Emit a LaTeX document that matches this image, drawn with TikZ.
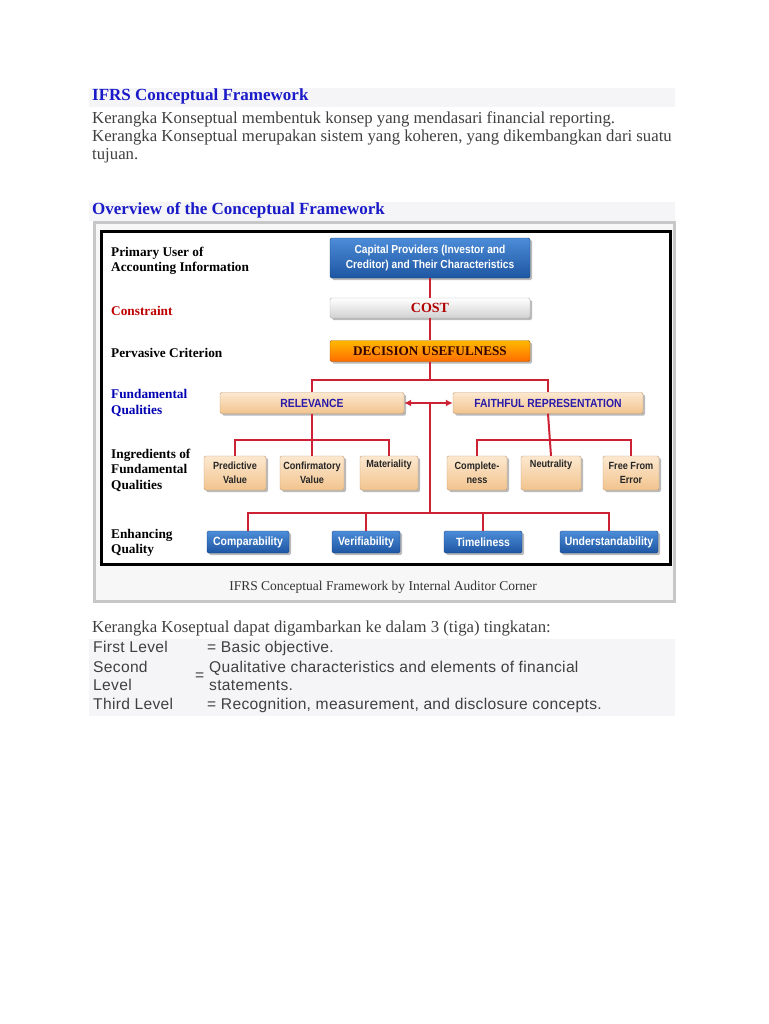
\documentclass[tikz,border=0pt]{standalone}
\usepackage{fontspec}
\setmainfont{Liberation Serif}
\newfontfamily\arialf[LetterSpace=2]{Liberation Sans}
\newfontfamily\narrowf[FakeStretch=0.88]{Liberation Sans}
\usetikzlibrary{shadows,arrows.meta}
\definecolor{titleblue}{HTML}{1A1AC8}
\definecolor{bodygray}{HTML}{404040}
\definecolor{bandgray}{HTML}{F5F5F7}
\definecolor{linered}{HTML}{CC2233}
\definecolor{peach}{HTML}{FAD9B0}
\definecolor{peachdark}{HTML}{F2C48E}
\definecolor{boxblueT}{HTML}{4C8CD8}
\definecolor{boxblueB}{HTML}{1E56A2}
\definecolor{relblue}{HTML}{2A1AA8}
\begin{document}
\begin{tikzpicture}[x=1pt,y=-1pt,
  band/.style={fill=bandgray,draw=none},
  heading/.style={anchor=mid west,inner sep=0pt,font=\fontsize{17}{20}\selectfont\bfseries,text=titleblue},
  bodytext/.style={anchor=mid west,inner sep=0pt,font=\fontsize{16.75}{18}\selectfont,text=bodygray},
  sanstext/.style={anchor=mid west,inner sep=0pt,font=\arialf\fontsize{15.6}{18}\selectfont,text=bodygray},
  rowlabel/.style={anchor=west,inner sep=0pt,align=left,font=\fontsize{13.3}{15.5}\selectfont\bfseries,text=black},
  boxbase/.style={rectangle,rounded corners=1.5pt,inner sep=1pt,drop shadow={shadow xshift=2pt,shadow yshift=-2pt,fill=black!45,opacity=.6}},
  bluebox/.style={boxbase,top color=boxblueT,bottom color=boxblueB,draw=boxblueB!80!black,text=white,font=\narrowf\fontsize{11.9}{15}\selectfont\bfseries},
  peachbox/.style={boxbase,top color=peach!60!white,bottom color=peachdark,draw=peachdark!80!black,text=black!85,font=\narrowf\fontsize{10.4}{13.5}\selectfont\bfseries,align=center},
  qualbox/.style={boxbase,top color=peach!60!white,bottom color=peachdark,draw=peachdark!80!black,text=relblue,font=\narrowf\fontsize{11.8}{14}\selectfont\bfseries},
  conn/.style={draw=linered,line width=2pt}
]
\useasboundingbox (0,0) rectangle (768,1024);
\fill[white] (0,0) rectangle (768,1024);

% --- top text ---
\fill[band] (89,88) rectangle (675,107);
\node[heading] (t1) at (92,98) {IFRS Conceptual Framework};
\node[bodytext] (p1) at (92,121) {Kerangka Konseptual membentuk konsep yang mendasari financial reporting.};
\node[bodytext] (p2) at (92,139) {Kerangka Konseptual merupakan sistem yang koheren, yang dikembangkan dari suatu};
\node[bodytext] (p3) at (92,157) {tujuan.};

\fill[band] (89,202) rectangle (675,221);
\node[heading] (t2) at (92,212) {Overview of the Conceptual Framework};

% --- figure frame ---
\filldraw[fill=white!97!black,draw=black!22,line width=3pt] (94,223) rectangle (674,601);
\filldraw[fill=white,draw=black,line width=3pt] (101,232) rectangle (670,564);
\node[anchor=mid,inner sep=0pt,font=\fontsize{13.5}{15}\selectfont,text=black!80] (cap1) at (383,588) {IFRS Conceptual Framework by Internal Auditor Corner};

% --- row labels ---
\node[rowlabel] (l1) at (111,261) {Primary User of\\Accounting Information};
\node[rowlabel,text=red!75!black] (l2) at (111,311) {Constraint};
\node[rowlabel] (l3) at (111,353) {Pervasive Criterion};
\node[rowlabel,text=blue!70!black] (l4) at (111,403) {Fundamental\\Qualities};
\node[rowlabel] (l5) at (111,470) {Ingredients of\\Fundamental\\Qualities};
\node[rowlabel] (l6) at (111,543) {Enhancing\\Quality};

% --- main column ---
\node[bluebox,minimum width=200pt,minimum height=40pt,align=center,font=\narrowf\fontsize{11.6}{15.5}\selectfont\bfseries] (capp) at (430,258) {Capital Providers (Investor and\\Creditor) and Their Characteristics};
\node[boxbase,minimum width=200pt,minimum height=20pt,top color=white,bottom color=black!18,draw=black!30,text=red!70!black,font=\fontsize{14}{15}\selectfont\bfseries] (cost) at (430,308) {COST};
\node[boxbase,minimum width=200pt,minimum height=21pt,top color=orange!55!yellow,bottom color=orange!85!red,draw=orange!70!black,text=black!80!red,font=\fontsize{13.2}{15}\selectfont\bfseries] (dec) at (430,351) {DECISION USEFULNESS};

\node[qualbox,minimum width=184pt,minimum height=21pt] (rel) at (312,403) {RELEVANCE};
\node[qualbox,minimum width=190pt,minimum height=21pt] (fr) at (548,403) {FAITHFUL REPRESENTATION};

\node[peachbox,minimum width=62pt,minimum height=34pt] (pv) at (235,473) {Predictive\\Value};
\node[peachbox,minimum width=64pt,minimum height=34pt] (cv) at (312,473) {Confirmatory\\Value};
\node[peachbox,minimum width=58pt,minimum height=34pt] (mat) at (389,473) {Materiality\\\strut};
\node[peachbox,minimum width=60pt,minimum height=34pt] (comp) at (477,473) {Complete-\\ness};
\node[peachbox,minimum width=60pt,minimum height=34pt] (neu) at (551,473) {Neutrality\\\strut};
\node[peachbox,minimum width=56pt,minimum height=34pt] (ffe) at (631,473) {Free From\\Error};

\node[bluebox,minimum width=82pt,minimum height=22pt] (ecmp) at (248,542) {Comparability};
\node[bluebox,minimum width=68pt,minimum height=22pt] (ever) at (366,542) {Verifiability};
\node[bluebox,minimum width=78pt,minimum height=22pt] (etim) at (483,542) {Timeliness};
\node[bluebox,minimum width=98pt,minimum height=22pt] (eund) at (609,542) {Understandability};

% --- connectors ---
\coordinate (j1) at (430,380);
\coordinate (mid) at (430,403);
\coordinate (j2) at (312,440);
\coordinate (j3) at (551,440);
\coordinate (j4) at (430,513);
\draw[conn] (capp.south) -- (cost.north);
\draw[conn] (cost.south) -- (dec.north);
\draw[conn] (dec.south) -- (j1);
\draw[conn] (rel.north) |- (j1) -| (fr.north);
\draw[conn,{Latex[length=7pt,width=7pt]}-{Latex[length=7pt,width=7pt]}] (rel.east) -- (fr.west);
\draw[conn] (mid) -- (j4);
\draw[conn] (rel.south) -- (cv.north);
\draw[conn] (pv.north) |- (j2) -| (mat.north);
\draw[conn] (fr.south) -- (neu.north);
\draw[conn] (comp.north) |- (j3) -| (ffe.north);
\draw[conn] (ecmp.north) |- (j4) -| (eund.north);
\draw[conn] (ever.north) -- (ever.north |- j4);
\draw[conn] (etim.north) -- (etim.north |- j4);

% --- lower text ---
\node[bodytext] (p4) at (92,630) {Kerangka Koseptual dapat digambarkan ke dalam 3 (tiga) tingkatan:};
\fill[band] (89,639) rectangle (675,716);
\node[sanstext] (r1a) at (93,650) {First Level};
\node[sanstext] (r1b) at (207,650) {= Basic objective.};
\node[sanstext] (r2a) at (93,670) {Second};
\node[sanstext] (r2b) at (93,688) {Level};
\node[sanstext] (r2c) at (195,678) {=};
\node[sanstext] (r2d) at (209,670) {Qualitative characteristics and elements of financial};
\node[sanstext] (r2e) at (209,688) {statements.};
\node[sanstext] (r3a) at (93,707) {Third Level};
\node[sanstext] (r3b) at (207,707) {= Recognition, measurement, and disclosure concepts.};
\end{tikzpicture}
\end{document}
